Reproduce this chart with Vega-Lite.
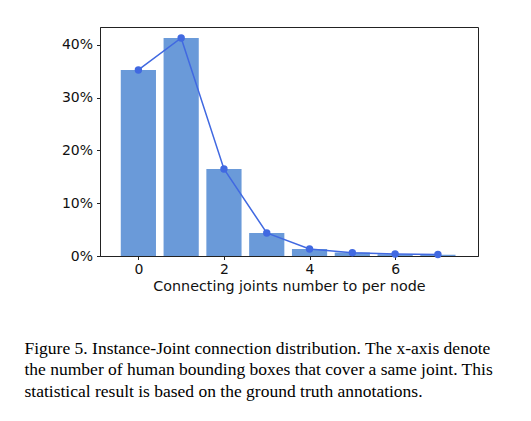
{
  "$schema": "https://vega.github.io/schema/vega-lite/v6.json",
  "autosize": {"type": "none"},
  "padding": {"left": 100, "top": 27, "right": 53, "bottom": 165},
  "width": 378,
  "height": 229,
  "background": "white",
  "title": {
    "text": [
      "Figure 5. Instance-Joint connection distribution. The x-axis denote",
      "the number of human bounding boxes that cover a same joint. This",
      "statistical result is based on the ground truth annotations."
    ],
    "orient": "bottom",
    "anchor": "start",
    "frame": "group",
    "dx": -75.5,
    "offset": 46,
    "font": "Liberation Serif",
    "fontSize": 17.5,
    "fontWeight": "normal",
    "lineHeight": 21.7,
    "color": "#000"
  },
  "config": {
    "view": {"stroke": "#222", "strokeWidth": 1},
    "axis": {
      "labelFont": "DejaVu Sans",
      "titleFont": "DejaVu Sans",
      "labelFontSize": 14,
      "titleFontSize": 14.3,
      "titleFontWeight": "normal",
      "labelColor": "#111",
      "titleColor": "#111",
      "domainColor": "#222",
      "tickColor": "#222",
      "tickSize": 3.5,
      "grid": false
    }
  },
  "data": {
    "values": [
      {"joints": 0, "share": 0.3526, "curve": 0.3526},
      {"joints": 1, "share": 0.4133, "curve": 0.4133},
      {"joints": 2, "share": 0.1649, "curve": 0.1649},
      {"joints": 3, "share": 0.0436, "curve": 0.0436},
      {"joints": 4, "share": 0.0133, "curve": 0.0133},
      {"joints": 5, "share": 0.0068, "curve": 0.0063},
      {"joints": 6, "share": 0.0035, "curve": 0.0038},
      {"joints": 7, "share": 0.0022, "curve": 0.0030}
    ]
  },
  "encoding": {
    "x": {
      "field": "joints",
      "type": "quantitative",
      "scale": {"domain": [-0.78, 7.82], "nice": false, "zero": false},
      "axis": {"values": [0, 2, 4, 6], "title": "Connecting joints number to per node", "labelPadding": 3, "titlePadding": 3}
    }
  },
  "layer": [
    {
      "mark": {"type": "bar", "width": 35.2, "color": "#6a9ad9"},
      "encoding": {
        "y": {
          "field": "share",
          "type": "quantitative",
          "scale": {"domain": [0, 0.434], "nice": false},
          "axis": {"values": [0, 0.1, 0.2, 0.3, 0.4], "format": ".0%", "title": null, "labelPadding": 4}
        }
      }
    },
    {
      "mark": {"type": "line", "color": "#4169e1", "strokeWidth": 1.5, "point": {"filled": true, "size": 55, "color": "#4169e1", "opacity": 1}},
      "encoding": {
        "y": {"field": "curve", "type": "quantitative"}
      }
    }
  ]
}
